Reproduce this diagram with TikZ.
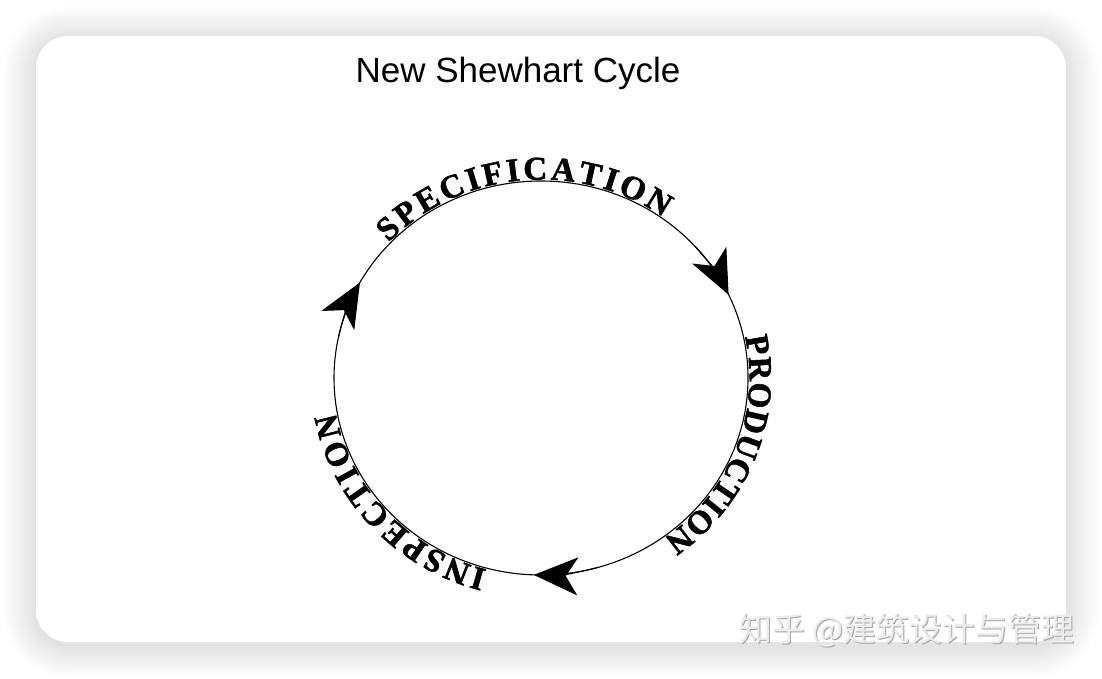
\documentclass[tikz,border=0pt]{standalone}
\usepackage{fontspec}
\setmainfont{Liberation Serif}
\newfontfamily\titlefont{Liberation Sans}
\newfontfamily\arcfont[FakeBold=1.6]{Liberation Serif Bold}
\newfontfamily\cjk{Noto Sans CJK SC}
\usetikzlibrary{arrows.meta,decorations.text}
\tikzset{
  cyc/.style={line width=1.1pt},
  bigarrow/.style={line width=1.1pt,-{Stealth[length=44pt,width=38pt,inset=12pt]}},
  arctext/.style={decorate,decoration={text along path,text={#1},text align={fit to path},raise=1.5pt}}
}
\begin{document}
\begin{tikzpicture}[x=1pt,y=1pt]
\useasboundingbox (0,0) rectangle (1102,678);
\fill[white] (0,0) rectangle (1102,678);
% shadow
\foreach \i in {1,...,14}{
  \pgfmathsetmacro\d{\i*2.3}
  \pgfmathsetmacro\r{32+\i*2.3}
  \fill[black,opacity=0.008,rounded corners=\r pt] (36-\d,36-\d-3) rectangle (1066+\d,642+\d-3);
}
% card
\fill[white,rounded corners=32pt] (36,36) rectangle (1066,642);
% title
\node[font=\titlefont\fontsize{35}{40}\selectfont,anchor=base] (title) at (518,595) {New Shewhart Cycle};
% cycle
\coordinate (c) at (541,300);
\draw[cyc] (c) ellipse [x radius=207, y radius=197];
\path[arctext={|\arcfont\fontsize{33}{33}\selectfont|SPECIFICATION}]
  (c) ++(137:207 and 197) arc[start angle=137,end angle=54,x radius=207,y radius=197];
\path[arctext={|\arcfont\fontsize{33}{33}\selectfont|PRODUCTION}]
  (c) ++(12:207 and 197) arc[start angle=12,end angle=-54,x radius=207,y radius=197];
\path[arctext={|\arcfont\fontsize{33}{33}\selectfont|INSPECTION}]
  (c) ++(-105:207 and 197) arc[start angle=-105,end angle=-170,x radius=207,y radius=197];
% arrows
\draw[bigarrow] (c) ++(42:207 and 197) arc[start angle=42,end angle=25,x radius=207,y radius=197];
\draw[bigarrow] (c) ++(-74:207 and 197) arc[start angle=-74,end angle=-92,x radius=207,y radius=197];
\draw[bigarrow] (c) ++(168:207 and 197) arc[start angle=168,end angle=151,x radius=207,y radius=197];
% watermark
\node[font=\cjk\fontsize{33}{33}\selectfont,text=gray!70] (wm0) at (908,47) {知乎 @建筑设计与管理};
\node[font=\cjk\fontsize{33}{33}\selectfont,text=gray!15] (wm) at (907,48) {知乎 @建筑设计与管理};
\end{tikzpicture}
\end{document}
